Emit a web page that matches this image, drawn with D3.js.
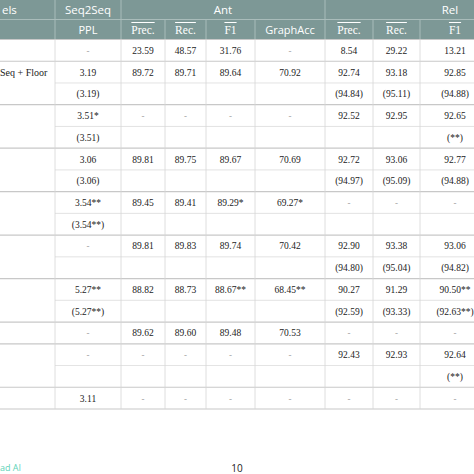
<!DOCTYPE html><html><head><meta charset="utf-8"><script src="https://cdn.jsdelivr.net/npm/d3@7"></script>
<style>body{margin:0;background:#fff}</style></head><body><svg id="c" width="474" height="474"></svg><script>
const colEdges=[-2,55,121,165,206,255,325,373,420,490];
const header1=[{t:"els",c0:0,c1:0,align:"start"},{t:"Seq2Seq",c0:1,c1:1},{t:"Ant",c0:2,c1:5},{t:"Rel",c0:6,c1:8,x:450}];
const header2=["","PPL","Prec.","Rec.","F1","GraphAcc","Prec.","Rec.","F1"];
const overlined=[2,3,4,6,7,8];
const labels=["","Seq + Floor","","","","","","","","","","","","","","",""];
const rows=[
["-","23.59","48.57","31.76","-","8.54","29.22","13.21"],
["3.19","89.72","89.71","89.64","70.92","92.74","93.18","92.85"],
["(3.19)","","","","","(94.84)","(95.11)","(94.88)"],
["3.51*","-","-","-","-","92.52","92.95","92.65"],
["(3.51)","","","","","","","(**)"],
["3.06","89.81","89.75","89.67","70.69","92.72","93.06","92.77"],
["(3.06)","","","","","(94.97)","(95.09)","(94.88)"],
["3.54**","89.45","89.41","89.29*","69.27*","-","-","-"],
["(3.54**)","","","","","","",""],
["-","89.81","89.83","89.74","70.42","92.90","93.38","93.06"],
["","","","","","(94.80)","(95.04)","(94.82)"],
["5.27**","88.82","88.73","88.67**","68.45**","90.27","91.29","90.50**"],
["(5.27**)","","","","","(92.59)","(93.33)","(92.63**)"],
["-","89.62","89.60","89.48","70.53","-","-","-"],
["-","-","-","-","-","92.43","92.93","92.64"],
["","","","","","","","(**)"],
["3.11","-","-","-","-","-","-","-"]];
const groupStarts=[0,1,3,5,7,9,11,13,14,16];
const svg=d3.select("#c");
const y=d3.scaleLinear().domain([0,rows.length]).range([39.5,409]);
const cx=i=>(colEdges[i]+colEdges[i+1])/2;
svg.append("rect").attr("x",0).attr("y",0).attr("width",474).attr("height",39.5).attr("fill","#7d9896");
svg.append("line").attr("x1",0).attr("x2",474).attr("y1",19.5).attr("y2",19.5).attr("stroke","#a9bcba");
[1,2,6].forEach(i=>svg.append("line").attr("x1",colEdges[i]).attr("x2",colEdges[i]).attr("y1",0).attr("y2",39.5).attr("stroke","#a9bcba"));
[3,4,5,7,8].forEach(i=>svg.append("line").attr("x1",colEdges[i]).attr("x2",colEdges[i]).attr("y1",19.5).attr("y2",39.5).attr("stroke","#a9bcba"));
header1.forEach(h=>{const x=h.x!==undefined?h.x:(h.align==="start"?2:(colEdges[h.c0]+colEdges[h.c1+1])/2);
svg.append("text").attr("x",x).attr("y",14).attr("text-anchor",h.align||"middle").attr("fill","#fff").attr("font-family","Open Sans").attr("font-size",11.5).text(h.t);});
header2.forEach((t,i)=>{if(!t)return;const serif=overlined.includes(i);
const tx=svg.append("text").attr("x",cx(i)).attr("y",34).attr("text-anchor","middle").attr("fill","#fff").attr("font-family",serif?"Liberation Serif":"Open Sans").attr("font-size",serif?11.5:11).text(t);
if(serif){const w=tx.node().getComputedTextLength();svg.append("line").attr("x1",cx(i)-w/2).attr("x2",cx(i)+w/2).attr("y1",22.5).attr("y2",22.5).attr("stroke","#fff");}});
for(let r=0;r<=rows.length;r++){const g=groupStarts.includes(r)||r===rows.length;
svg.append("line").attr("x1",g?0:colEdges[1]).attr("x2",474).attr("y1",y(r)).attr("y2",y(r)).attr("stroke",g?"#c8c8c8":"#dcdcdc").attr("stroke-width",g?1.2:0.8);}
for(let i=1;i<colEdges.length-1;i++)svg.append("line").attr("x1",colEdges[i]).attr("x2",colEdges[i]).attr("y1",39.5).attr("y2",y(rows.length)).attr("stroke","#d6d6d6").attr("stroke-width",0.8);
rows.forEach((row,r)=>{row.forEach((v,j)=>{if(!v)return;
svg.append("text").attr("x",cx(j+1)).attr("y",(y(r)+y(r+1))/2+3.5).attr("text-anchor","middle").attr("font-family","Liberation Serif").attr("font-size",v==="-"?9:9.5).attr("fill",v==="-"?"#999":"#222").text(v);});
if(labels[r])svg.append("text").attr("x",0).attr("y",(y(r)+y(r+1))/2+3.5).attr("font-family","Liberation Serif").attr("font-size",10).attr("fill","#222").text(labels[r]);});
svg.append("text").attr("x",0).attr("y",471).attr("font-family","Open Sans").attr("font-size",9).attr("fill","#5ed3b8").text("ad AI");
svg.append("text").attr("x",237).attr("y",472).attr("text-anchor","middle").attr("font-family","Open Sans").attr("font-size",10).attr("fill","#222").text("10");
</script></body></html>
